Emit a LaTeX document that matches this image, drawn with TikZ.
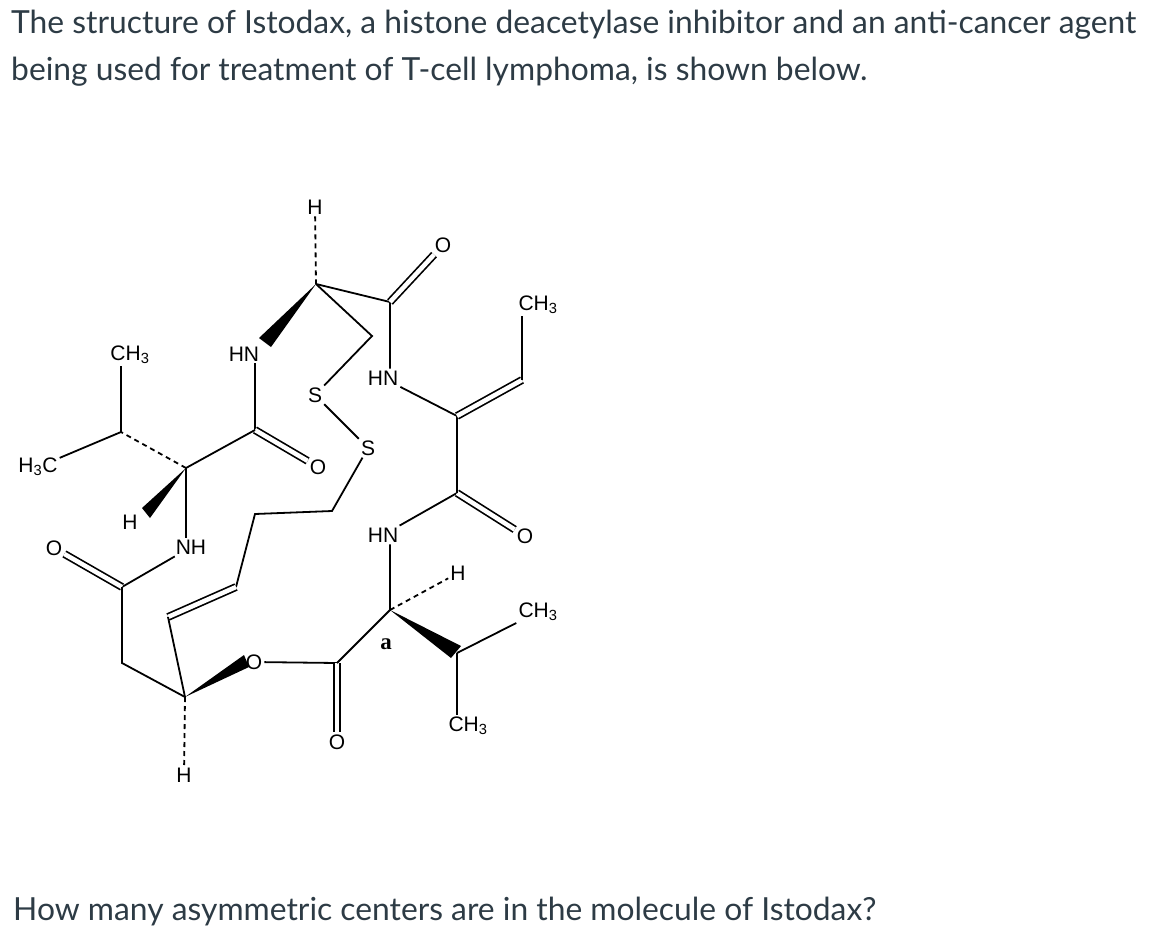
\documentclass[tikz,border=0pt]{standalone}
\usetikzlibrary{calc}
\usepackage{fontspec}
\setmainfont{Lato}
\newfontfamily\atomfont{Liberation Sans}
\newfontfamily\labfont{Liberation Serif}
\definecolor{txtc}{HTML}{2D3B45}
\begin{document}
\begin{tikzpicture}[x=1pt,y=-1pt,
  atom/.style={font=\atomfont\fontsize{21}{24}\selectfont,inner sep=2pt},
  bond/.style={line width=1.8pt},
  dbl/.style={line width=1.7pt,double,double distance=4.5pt,draw=black,double=white,line cap=butt},
  hash/.style={line width=1.8pt,dash pattern=on 5pt off 4pt},
  txt/.style={font=\fontsize{31.8}{47}\selectfont,anchor=west,inner sep=0pt,text=txtc}]
\useasboundingbox (0,0) rectangle (1162,950);
\node[txt] (t1) at (11,25) {The structure of Istodax, a histone deacetylase inhibitor and an anti-cancer agent};
\node[txt] (t2) at (11,72) {being used for treatment of T-cell lymphoma, is shown below.};
\node[txt] (t3) at (13,912) {How many asymmetric centers are in the molecule of Istodax?};
% carbons
\coordinate (C1) at (316,284);
\coordinate (C2) at (390,302);
\coordinate (CH2a) at (372,336);
\coordinate (Ca) at (255,514);
\coordinate (Cb) at (332,511);
\coordinate (Cd1) at (236,587);
\coordinate (Cd2) at (168,617);
\coordinate (C3) at (255,430);
\coordinate (Cal) at (186,468);
\coordinate (iP) at (121,432);
\coordinate (C4) at (122,587);
\coordinate (C5) at (122,663);
\coordinate (C6) at (185,697);
\coordinate (C7) at (337,663);
\coordinate (Cx) at (390,610);
\coordinate (C8) at (457,493);
\coordinate (C9) at (457,416);
\coordinate (C10) at (522,380);
\coordinate (C11) at (457,653);
% labels
\node[atom] (Htop) at (315,207) {H};
\node[atom] (O1) at (443,245) {O};
\node[atom] (HN1) at (383,378) {HN};
\node[atom] (S1) at (315,395) {S};
\node[atom] (S2) at (368,448) {S};
\node[atom] (HN2) at (244,354) {HN};
\node[atom] (O2) at (318,467) {O};
\node[atom] (CH3a) at (130,355) {CH\textsubscript{3}};
\node[atom] (H3C) at (38,467) {H\textsubscript{3}C};
\node[atom] (Hl) at (130,522) {H};
\node[atom] (NH) at (191,547) {NH};
\node[atom] (O3) at (54,548) {O};
\node[atom] (Hb) at (184,775) {H};
\node[atom] (O4) at (254,662) {O};
\node[atom] (O5) at (337,742) {O};
\node[font=\labfont\bfseries\fontsize{23}{24}\selectfont,inner sep=0pt] (la) at (386,644) {a};
\node[atom] (HN3) at (383,535) {HN};
\node[atom] (O6) at (525,536) {O};
\node[atom] (CH3b) at (538,305) {CH\textsubscript{3}};
\node[atom] (Hr) at (458,573) {H};
\node[atom] (CH3c) at (538,612) {CH\textsubscript{3}};
\node[atom] (CH3d) at (468,726) {CH\textsubscript{3}};
% bonds
\draw[hash] (Htop) -- (C1);
\draw[bond] (C1) -- (C2) -- (C2 |- HN1.north);
\draw[dbl] (C2) -- (O1);
\draw[bond] (C1) -- (CH2a) -- (S1);
\draw[bond] (S1) -- (S2);
\draw[bond] (S2) -- (Cb) -- (Ca) -- (Cd1);
\draw[dbl] (Cd1) -- (Cd2);
\draw[bond] (Cd2) -- (C6);
\fill (C1) -- ($(HN2)+(15,-16)$) -- ($(HN2)+(27,-7)$) -- cycle;
\draw[bond] (C3 |- HN2.south) -- (C3);
\draw[dbl] (C3) -- (O2);
\draw[bond] (C3) -- (Cal);
\draw[hash] (Cal) -- (iP);
\draw[bond] (iP) -- (iP |- CH3a.south);
\draw[bond] (iP) -- (H3C);
\fill (Cal) -- ($(Hl)+(12,-14)$) -- ($(Hl)+(20,-4)$) -- cycle;
\draw[bond] (Cal) -- (Cal |- NH.north);
\draw[bond] (NH) -- (C4);
\draw[dbl] (C4) -- (O3);
\draw[bond] (C4) -- (C5) -- (C6);
\draw[hash] (C6) -- (Hb);
\fill (C6) -- ($(O4)+(-10,-7)$) -- ($(O4)+(-5,5)$) -- cycle;
\draw[bond] (O4) -- (C7);
\draw[dbl] (C7) -- (O5);
\draw[bond] (C7) -- (Cx) -- (Cx |- HN3.south);
\draw[bond] (HN3) -- (C8);
\draw[dbl] (C8) -- (O6);
\draw[bond] (C8) -- (C9) -- (HN1);
\draw[dbl] (C9) -- (C10);
\draw[bond] (C10) -- (C10 |- CH3b.south);
\draw[hash] (Cx) -- (Hr);
\fill (Cx) -- ($(C11)+(-6,5)$) -- ($(C11)+(4,-7)$) -- cycle;
\draw[bond] (C11) -- (CH3c);
\draw[bond] (C11) -- (C11 |- CH3d.north);
\end{tikzpicture}
\end{document}
